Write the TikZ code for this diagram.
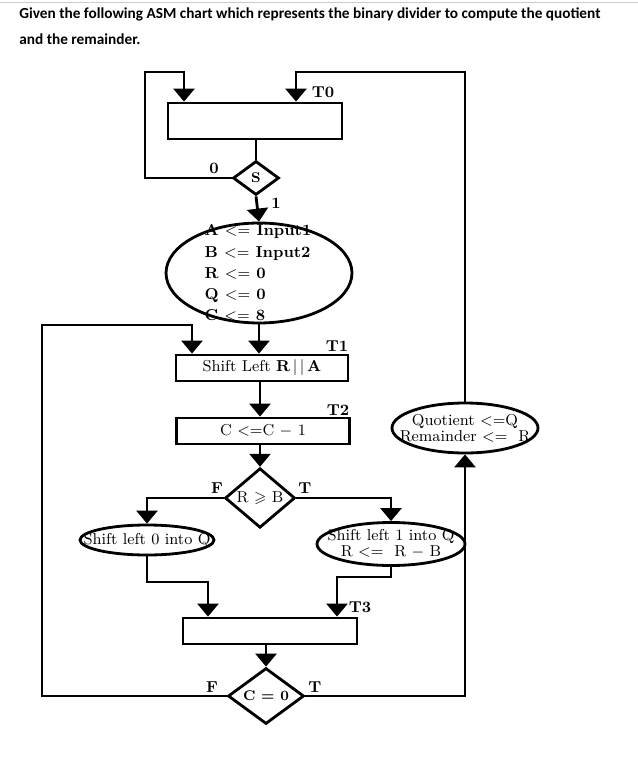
\documentclass[tikz,border=0pt]{standalone}
\usepackage{amssymb}
\usepackage{fontspec}
\newfontfamily\titlefont{Carlito}
\usetikzlibrary{shapes.geometric,arrows.meta}
\begin{document}
\begin{tikzpicture}[x=0.02cm,y=-0.02cm,
  line width=1.6pt,
  ar/.style={-{Triangle[width=0.42cm,length=0.26cm]}},
  box/.style={draw,rectangle,inner sep=0pt,font=\small},
  dia/.style={draw,diamond,inner sep=0pt,font=\footnotesize\bfseries},
  ell/.style={draw,ellipse,inner sep=0pt},
  txt/.style={font=\small,align=center,inner sep=0pt},
  lab/.style={font=\small\bfseries,inner sep=1pt}]
\useasboundingbox (0,0) rectangle (638,763);
\draw[line width=0.4pt,gray!40] (0,2) -- (638,2);
\node[anchor=north west,font=\titlefont\bfseries\fontsize{8.7}{11}\selectfont,align=left,inner sep=0pt]
  (title) at (18,6) {Given the following ASM chart which represents the binary divider to compute the quotient\\[4pt] and the remainder.};

% states
\node[box,minimum width=3.48cm,minimum height=0.72cm] (s0) at (255,121) {};
\node[dia,minimum width=0.92cm,minimum height=0.68cm] (ds) at (256,178) {S};
\node[ell,minimum width=3.72cm,minimum height=2cm] (init) at (259,273) {};
\node[txt,font=\small\bfseries,align=left] (tinit) at (258,273)
  {A $<=$ Input1\\[1pt]B $<=$ Input2\\[1pt]R $<=$ 0\\[1pt]Q $<=$ 0\\[1pt]C $<=$ 8};
\node[box,minimum width=3.44cm,minimum height=0.52cm] (s1) at (262,368) {Shift Left \textbf{R$\,|\,|\,$A}};
\node[box,minimum width=3.46cm,minimum height=0.52cm] (s2) at (263,431) {C $<=$C $-$ 1};
\node[dia,minimum width=1.4cm,minimum height=0.86cm,font=\small] (drb) at (260,498) {R $\geqslant$ B};
\node[ell,minimum width=2.68cm,minimum height=0.6cm] (e0) at (147,540) {};
\node[txt] (te0) at (e0) {Shift left 0 into Q};
\node[ell,minimum width=2.96cm,minimum height=0.86cm] (e1) at (391,544) {};
\node[txt] (te1) at (e1) {Shift left 1 into Q\\[-2pt]R $<=$ \ R $-$ B};
\node[box,minimum width=3.48cm,minimum height=0.52cm] (s3) at (270,631) {};
\node[dia,minimum width=1.52cm,minimum height=0.8cm] (dc) at (266,696) {C = 0};
\node[ell,minimum width=2.92cm,minimum height=1cm] (eq) at (465,428) {};
\node[txt] (teq) at (eq) {Quotient $<=$Q\\[-2pt]Remainder $<=$ \ R};

% labels
\node[lab] (lt0) at (323,92) {T0};
\node[lab] (l0) at (214,168) {0};
\node[lab] (l1) at (276,203) {1};
\node[lab] (lt1) at (337,346) {T1};
\node[lab] (lt2) at (338,410) {T2};
\node[lab] (lf1) at (217,488) {F};
\node[lab] (ltr1) at (305,488) {T};
\node[lab] (lt3) at (360,607) {T3};
\node[lab] (lf2) at (212,687) {F};
\node[lab] (ltr2) at (315,687) {T};

% connectors
\draw[ar] (ds.west) -| (145,72) -| (s0.north -| 184,0);
\draw (s0.south -| ds.north) -- (ds.north);
\draw[ar] (ds.south) -- (init.north);
\draw[ar] (init.south -| 259,0) -- (s1.north -| 259,0);
\draw[ar] (dc.west) -| (42,325) -| (s1.north -| 192,0);
\draw[ar] (s1.south -| 260,0) -- (s2.north -| 260,0);
\draw[ar] (s2.south -| drb.north) -- (drb.north);
\draw[ar] (drb.west) -| (e0.north);
\draw[ar] (drb.east) -| (e1.north);
\draw[ar] (e0.south) |- (208,582) -- (s3.north -| 208,0);
\draw[ar] (e1.south) |- (337,577) -- (s3.north -| 337,0);
\draw[ar] (s3.south -| dc.north) -- (dc.north);
\draw[ar] (dc.east) -| (eq.south);
\draw[ar] (eq.north) -- (465,72) -| (s0.north -| 296,0);
\end{tikzpicture}
\end{document}
